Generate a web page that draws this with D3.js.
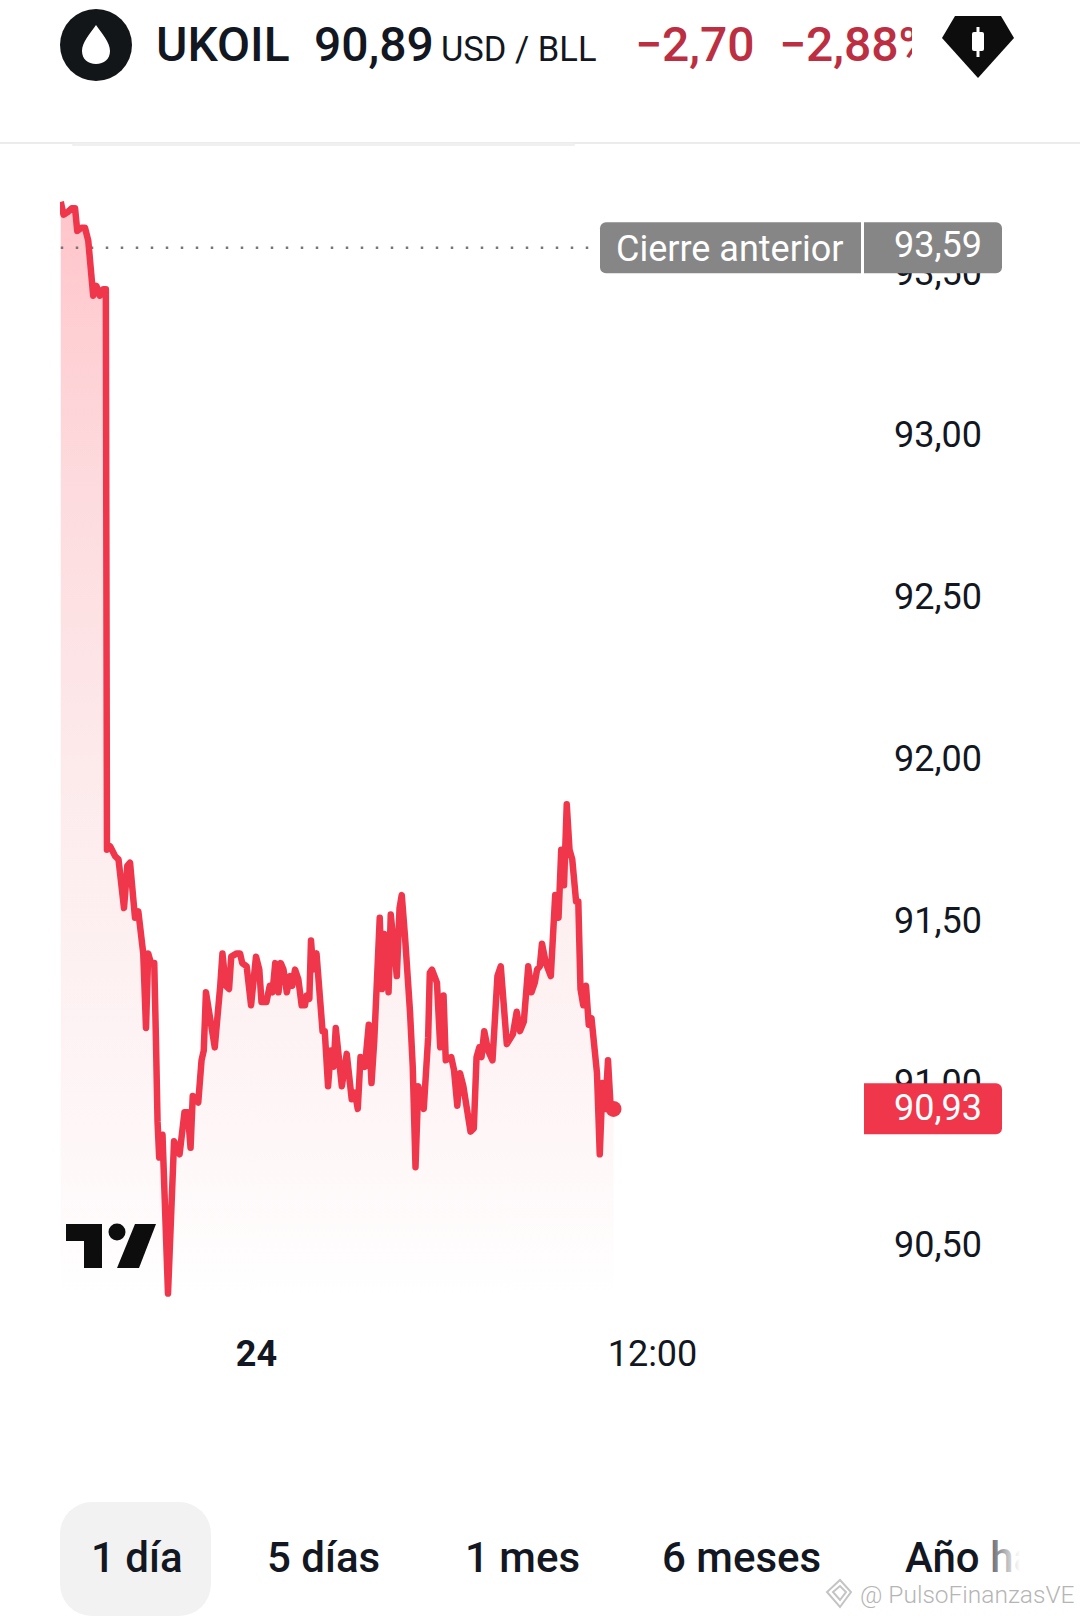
<!DOCTYPE html>
<html>
<head>
<meta charset="utf-8">
<script src="https://cdn.jsdelivr.net/npm/d3@7"></script>
<style>
  html, body { margin: 0; padding: 0; background: #fff; }
  svg { display: block; font-family: Roboto, sans-serif; }
</style>
</head>
<body>
<div id="myViz"></div>
<script>
// Datos: minutos respecto a las 00:00 del día 24
const minutes = [-355,-350,-341,-335,-329,-325,-317,-311,-305,-296,-290,-284,-278,-273,-271,-265,-256,-250,-240,-234,-229,-220,-214,-205,-200,-196,-191,-185,-182,-179,-176,-170,-160,-149,-139,-130,-124,-119,-115,-105,-99,-95,-91,-75,-65,-61,-55,-49,-45,-35,-29,-25,-17,-9,0,6,10,19,25,30,35,41,45,50,56,62,66,71,77,83,89,92,97,100,104,110,121,125,131,136,141,145,156,165,174,180,185,190,198,205,210,215,225,229,233,241,245,256,261,265,271,280,285,290,295,305,313,316,320,329,335,341,345,355,360,366,371,377,390,396,401,406,410,415,422,430,439,445,456,467,474,480,487,495,501,507,511,516,520,527,536,544,550,555,560,565,570,575,582,586,590,595,600,605,610,620,625,630,635,640,645,650];
const prices = [93.72,93.68,93.69,93.70,93.70,93.63,93.64,93.64,93.60,93.43,93.46,93.43,93.45,93.45,91.72,91.73,91.70,91.69,91.54,91.67,91.68,91.51,91.53,91.40,91.17,91.40,91.37,91.37,91.14,90.88,90.77,90.84,90.35,90.82,90.78,90.91,90.91,90.80,90.96,90.94,91.07,91.10,91.28,91.11,91.30,91.40,91.30,91.29,91.39,91.40,91.40,91.37,91.36,91.24,91.39,91.35,91.25,91.25,91.30,91.28,91.37,91.28,91.37,91.35,91.28,91.33,91.30,91.35,91.32,91.24,91.24,91.27,91.26,91.44,91.35,91.40,91.16,91.16,90.99,91.10,91.05,91.17,90.99,91.09,90.95,90.97,90.92,91.08,91.05,91.18,91.00,91.13,91.51,91.29,91.46,91.28,91.52,91.33,91.54,91.58,91.45,91.22,91.05,90.74,90.99,90.92,91.14,91.34,91.35,91.31,91.11,91.27,91.07,91.08,91.04,90.93,91.03,90.99,90.85,90.86,91.08,91.11,91.08,91.16,91.10,91.07,91.33,91.36,91.12,91.15,91.22,91.16,91.19,91.36,91.28,91.31,91.35,91.36,91.43,91.37,91.33,91.58,91.51,91.72,91.61,91.86,91.72,91.69,91.56,91.56,91.29,91.24,91.30,91.18,91.20,91.03,90.78,91.00,90.92,91.07,90.92,90.92];

const priceTicks = [90.5, 91, 91.5, 92, 92.5, 93, 93.5];
const timeTicks = [0, 720];
const timeLabels = ['24', '12:00'];
const prevClose = 93.59;
const lastPrice = 90.93;
const prevCloseLabel = 'Cierre anterior';

const symbol = 'UKOIL';
const quote = '90,89';
const unit = 'USD / BLL';
const change = '\u22122,70';
const changePct = '\u22122,88%';
const tabs = ['1 día', '5 días', '1 mes', '6 meses', 'Año ha'];
const watermark = '@ PulsoFinanzasVE';

const width = 1080, height = 1619;
const red = '#f0364a', darkRed = '#bc2f42', ink = '#131722', grey = '#868686';
const fmt = d3.format('.2f');
const comma = v => fmt(v).replace('.', ',');

const svg = d3.select('#myViz').append('svg')
  .attr('width', width)
  .attr('height', height);

// Escalas: 0 -> marca "24", 720 -> marca "12:00"
const x = d3.scaleLinear().domain([0, 720]).range([256, 652]);
const y = d3.scaleLinear().domain([90.5, 93]).range([1245, 435]);

const points = minutes.map((m, i) => ({ m, p: prices[i] }));

// Definiciones
const defs = svg.append('defs');
const grad = defs.append('linearGradient')
  .attr('id', 'areaFill')
  .attr('gradientUnits', 'userSpaceOnUse')
  .attr('x1', 0).attr('x2', 0)
  .attr('y1', 200).attr('y2', 1295);
[[0, '#ffc5ca'], [0.25, '#fddadd'], [0.55, '#fdeced'], [0.85, '#fef6f7'], [1, '#ffffff']].forEach(s => {
  grad.append('stop').attr('offset', s[0]).attr('stop-color', s[1]);
});
const fade = defs.append('linearGradient').attr('id', 'fadeOut');
fade.append('stop').attr('offset', 0).attr('stop-color', '#fff').attr('stop-opacity', 0);
fade.append('stop').attr('offset', 1).attr('stop-color', '#fff').attr('stop-opacity', 1);
defs.append('clipPath').attr('id', 'pctClip')
  .append('rect').attr('x', 770).attr('y', 0).attr('width', 142).attr('height', 100);
defs.append('clipPath').attr('id', 'lineClip')
  .append('rect').attr('x', 60).attr('y', 190).attr('width', 600).attr('height', 1120);

// Cabecera
const header = svg.append('g').attr('class', 'header');
header.append('circle').attr('cx', 96).attr('cy', 45).attr('r', 36).attr('fill', '#131619');
header.append('path')
  .attr('d', 'M96,25 C90,34 82,42 82,51 C82,59 88,64 96,64 C104,64 110,59 110,51 C110,42 102,34 96,25 Z')
  .attr('fill', '#fff');

const headText = (txt, xPos, size, weight, color) => header.append('text')
  .attr('x', xPos).attr('y', 61)
  .attr('font-size', size).attr('font-weight', weight)
  .attr('fill', color).text(txt);
headText(symbol, 156, 48, 500, ink);
headText(quote, 314, 48, 500, ink);
headText(unit, 441, 34.5, 400, ink);
headText(change, 635, 48, 500, darkRed);
headText(changePct, 779, 48, 500, darkRed).attr('clip-path', 'url(#pctClip)');

header.append('path')
  .attr('d', 'M955,16 L1001,16 L1014,38 L978,78 L942,38 Z')
  .attr('fill', '#0d0d0d');
header.append('rect').attr('x', 972).attr('y', 32).attr('width', 12).attr('height', 19).attr('rx', 2).attr('fill', '#fff');
header.append('rect').attr('x', 976.5).attr('y', 27).attr('width', 3).attr('height', 30).attr('fill', '#fff');

// Separador
svg.append('rect').attr('x', 0).attr('y', 142).attr('width', width).attr('height', 2).attr('fill', '#ececec');
svg.append('rect').attr('x', 72).attr('y', 143).attr('width', 503).attr('height', 3).attr('rx', 1.5).attr('fill', '#f0f0f0');

// Área y línea
const area = d3.area()
  .x(d => x(d.m))
  .y0(1295)
  .y1(d => y(d.p));
const line = d3.line()
  .x(d => x(d.m))
  .y(d => y(d.p));

svg.append('path').datum(points)
  .attr('d', area)
  .attr('fill', 'url(#areaFill)');

// Cierre anterior: línea de puntos
const closeY = y(prevClose) + 4;
svg.append('line')
  .attr('x1', x(minutes[0])).attr('x2', 592)
  .attr('y1', closeY).attr('y2', closeY)
  .attr('stroke', '#777')
  .attr('stroke-width', 2.5)
  .attr('stroke-dasharray', '2.5 12.5');

svg.append('path').datum(points)
  .attr('d', line)
  .attr('fill', 'none')
  .attr('stroke', red)
  .attr('stroke-width', 6.5)
  .attr('stroke-linejoin', 'round')
  .attr('clip-path', 'url(#lineClip)');

svg.append('circle')
  .attr('cx', x(minutes[minutes.length - 1]))
  .attr('cy', y(prices[prices.length - 1]))
  .attr('r', 8)
  .attr('fill', red);

// Logo de TradingView
const logo = svg.append('g').attr('fill', '#0d0d0d');
logo.append('path').attr('d', 'M66,1224 H102 V1268 H84 V1241 H66 Z');
logo.append('circle').attr('cx', 117).attr('cy', 1232).attr('r', 8.5);
logo.append('path').attr('d', 'M135,1224 H156 L139,1268 H117 Z');

// Ejes
const yAxis = d3.axisRight(y)
  .tickValues(priceTicks)
  .tickSize(0)
  .tickPadding(0)
  .tickFormat(comma);
const yG = svg.append('g').attr('transform', 'translate(894,0)').call(yAxis);
yG.select('.domain').remove();
yG.selectAll('text')
  .attr('font-size', 36)
  .attr('font-family', 'Roboto, sans-serif')
  .attr('fill', ink);

const xAxis = d3.axisBottom(x)
  .tickValues(timeTicks)
  .tickSize(0)
  .tickPadding(0)
  .tickFormat((d, i) => timeLabels[i]);
const xG = svg.append('g').attr('transform', 'translate(0,1340)').call(xAxis);
xG.select('.domain').remove();
xG.selectAll('text')
  .attr('font-size', 36)
  .attr('font-family', 'Roboto, sans-serif')
  .attr('fill', ink)
  .attr('font-weight', (d, i) => i === 0 ? 700 : 400);

// Etiquetas sobre el eje
const boxTop = closeY - 25.5;
svg.append('path')
  .attr('d', `M861,${boxTop} V${boxTop + 51} H606 a6,6 0 0 1 -6,-6 V${boxTop + 6} a6,6 0 0 1 6,-6 Z`)
  .attr('fill', grey);
svg.append('path')
  .attr('d', `M864,${boxTop} H996 a6,6 0 0 1 6,6 V${boxTop + 45} a6,6 0 0 1 -6,6 H864 Z`)
  .attr('fill', grey);
svg.append('text')
  .attr('x', 616).attr('y', closeY + 13)
  .attr('font-size', 36).attr('fill', '#fff')
  .text(prevCloseLabel);
svg.append('text')
  .attr('x', 894).attr('y', closeY + 9)
  .attr('font-size', 36).attr('fill', '#fff')
  .text(comma(prevClose));

const lastY = y(lastPrice) + 3;
svg.append('path')
  .attr('d', `M864,${lastY - 25.5} H996 a6,6 0 0 1 6,6 V${lastY + 19.5} a6,6 0 0 1 -6,6 H864 Z`)
  .attr('fill', red);
svg.append('text')
  .attr('x', 894).attr('y', lastY + 11)
  .attr('font-size', 36).attr('fill', '#fff')
  .text(comma(lastPrice));

// Pestañas de periodo
svg.append('rect')
  .attr('x', 60).attr('y', 1502)
  .attr('width', 151).attr('height', 114)
  .attr('rx', 32)
  .attr('fill', '#f2f2f2');
const tabX = [91, 267, 465, 662, 905];
svg.append('g').selectAll('text')
  .data(tabs)
  .enter().append('text')
  .attr('x', (d, i) => tabX[i])
  .attr('y', 1572)
  .attr('font-size', 42)
  .attr('font-weight', 500)
  .attr('fill', ink)
  .text(d => d);
svg.append('rect')
  .attr('x', 975).attr('y', 1530)
  .attr('width', 45).attr('height', 55)
  .attr('fill', 'url(#fadeOut)');
svg.append('rect')
  .attr('x', 1020).attr('y', 1530)
  .attr('width', 60).attr('height', 55)
  .attr('fill', '#fff');

// Marca de agua
svg.append('path')
  .attr('d', 'M840,1580 L851,1592 L840,1607 L827,1592 Z M833,1592 L840,1586 L846,1592 L840,1600 Z')
  .attr('fill', 'none')
  .attr('stroke', '#c4c4c4')
  .attr('stroke-width', 2);
svg.append('text')
  .attr('x', 860).attr('y', 1603)
  .attr('font-size', 24.5)
  .attr('font-weight', 300)
  .attr('fill', '#b5b5b5')
  .text(watermark);
</script>
</body>
</html>
